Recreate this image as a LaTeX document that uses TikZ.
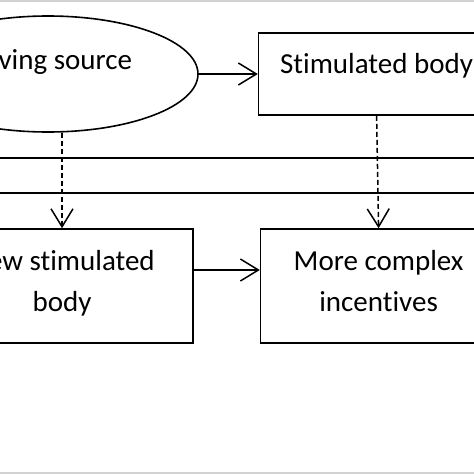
\documentclass[tikz,border=0pt]{standalone}
\usepackage{fontspec}
\setmainfont{Carlito}[Ligatures=CommonOff]
\usetikzlibrary{positioning,shapes,arrows.meta}

\tikzset{
    lbl/.style={font=\fontsize{29}{41}\selectfont, align=center, inner sep=0pt},
    box/.style={lbl, draw, line width=1.6pt, rectangle, minimum height=114pt},
    flow/.style={-{Straight Barb[length=18pt,width=22pt]}, line width=1.5pt},
    hint/.style={flow, dash pattern=on 5pt off 3pt},
}

\begin{document}
\begin{tikzpicture}[x=1pt, y=-1pt]
    \useasboundingbox (0,0) rectangle (474,474);
    \clip (0,0) rectangle (474,474);
    % set up the nodes
    \node[lbl, draw, line width=1.6pt, ellipse, minimum width=300pt, minimum height=116pt,
          text height=8pt, text depth=18pt] (drv) at (48,74) {Driving source};
    \node[box, right=59pt of drv, minimum width=236pt, minimum height=82pt,
          text height=20pt, text depth=22pt] (stim) {Stimulated body};
    \node[box, minimum width=262pt, text height=61pt, text depth=11pt] (newb) at (62,286)
        {New stimulated\\body};
    \node[box, right=66pt of newb, minimum width=236pt,
          text height=61pt, text depth=11pt] (more) {More complex\\incentives};
    % the two long lines and the frame edges
    \coordinate (la) at (0,158);   \coordinate (lb) at (474,158);
    \coordinate (lc) at (0,193);   \coordinate (ld) at (474,193);
    \coordinate (ta) at (0,1);     \coordinate (tb) at (474,1);
    \coordinate (ba) at (0,473);   \coordinate (bb) at (474,473);
    \draw[line width=1.5pt] (la) -- (lb) (lc) -- (ld);
    \draw[gray!35, line width=2pt] (ta) -- (tb) (ba) -- (bb);
    % draw arrows between them
    \draw[flow] (drv.east) -- (stim.west);
    \draw[flow] ([yshift=16pt]newb.east) -- ([yshift=16pt]more.west);
    \draw[hint] (drv.south -| newb.north) -- (newb.north);
    \draw[hint] (stim.south) -- (more.north);
\end{tikzpicture}
\end{document}
